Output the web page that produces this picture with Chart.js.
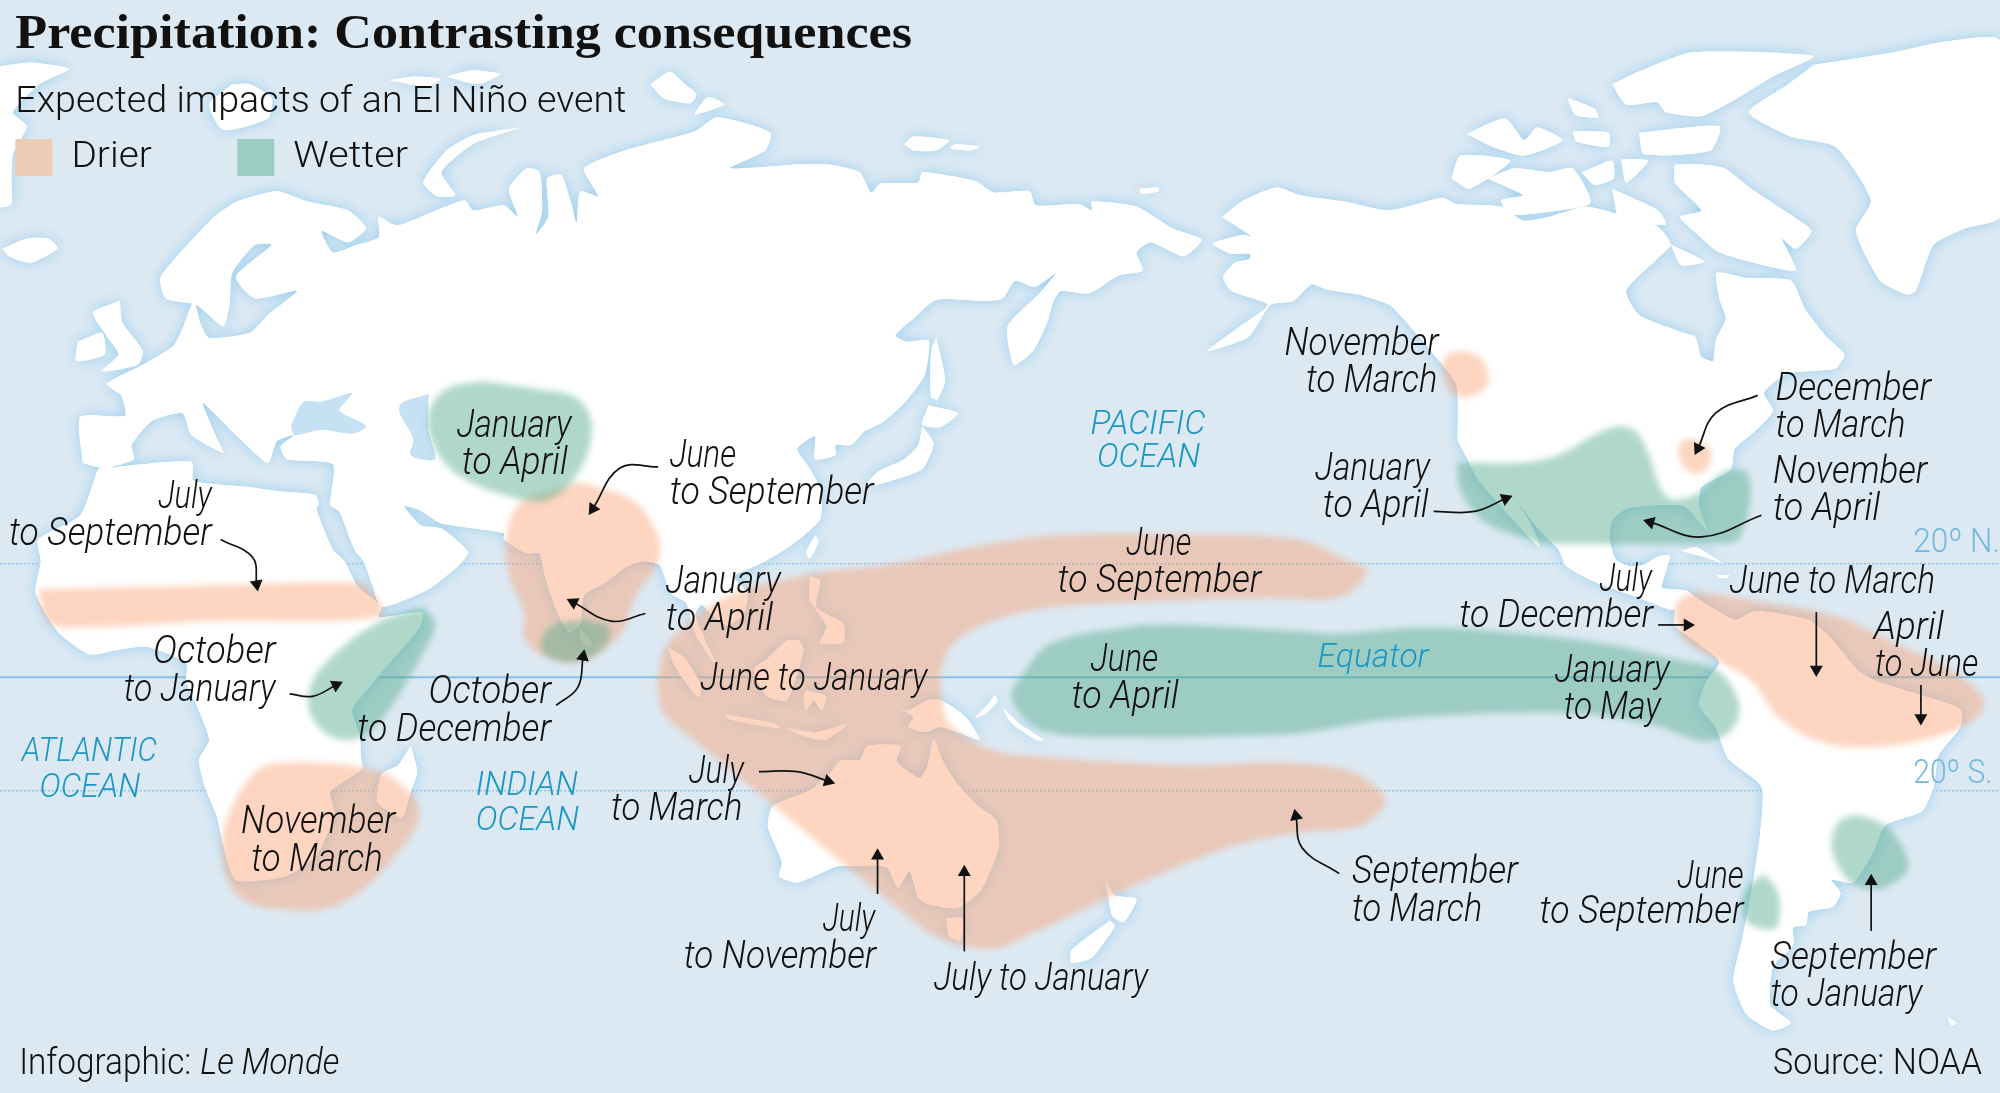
<!DOCTYPE html>
<html>
<head>
<meta charset="utf-8">
<title>Precipitation: Contrasting consequences</title>
<script src="https://cdn.jsdelivr.net/npm/chart.js@4"></script>
<style>
  html, body { margin: 0; padding: 0; background: #dce9f3; }
  canvas { display: block; }
</style>
</head>
<body>
<canvas id="myChart" width="2000" height="1093"></canvas>
<script>
var eurasia = [[65,363],[63,327],[98,326],[95,310],[84,301],[112,286],[136,271],[143,258],[152,236],[157,253],[164,265],[196,261],[210,247],[233,228],[200,234],[185,217],[213,192],[200,192],[182,214],[180,239],[175,256],[154,239],[130,234],[126,217],[168,170],[186,158],[217,150],[241,158],[273,165],[287,179],[273,190],[252,181],[261,198],[280,192],[297,186],[297,170],[308,176],[315,176],[364,157],[371,165],[395,161],[406,170],[399,148],[413,132],[423,135],[425,165],[420,184],[430,170],[429,140],[440,137],[448,160],[452,175],[455,150],[469,154],[458,132],[490,118],[545,103],[562,92],[604,104],[600,118],[572,132],[625,129],[650,129],[674,135],[683,151],[690,144],[720,143],[723,135],[765,142],[779,151],[807,150],[812,161],[846,160],[856,165],[856,158],[891,162],[919,179],[942,188],[928,201],[902,190],[891,198],[896,212],[877,216],[854,230],[832,228],[826,236],[821,253],[810,275],[795,286],[790,256],[814,231],[828,214],[811,225],[796,220],[786,234],[772,236],[734,235],[716,250],[702,263],[711,268],[728,267],[725,294],[709,316],[692,331],[678,338],[667,349],[655,349],[655,357],[639,360],[639,342],[625,352],[634,366],[644,385],[643,407],[629,421],[615,431],[600,440],[585,447],[575,452],[586,465],[583,482],[570,490],[556,480],[550,474],[545,482],[552,500],[562,522],[546,499],[538,473],[526,465],[517,443],[504,440],[490,445],[476,456],[458,467],[455,489],[446,496],[436,478],[427,451],[423,434],[413,434],[395,423],[395,418],[355,412],[345,410],[329,400],[317,397],[330,412],[345,414],[354,420],[367,433],[360,443],[336,462],[299,476],[292,459],[285,440],[278,431],[266,401],[259,396],[261,364],[225,360],[220,350],[231,341],[217,346],[210,363],[185,341],[159,316],[171,346],[175,355],[150,341],[143,324],[119,330],[103,349],[105,360],[82,367]];
var africa = [[82,367],[150,362],[152,377],[196,382],[217,385],[247,388],[250,395],[248,399],[261,431],[270,440],[280,459],[299,476],[297,484],[331,480],[329,492],[308,517],[296,531],[280,550],[276,558],[282,577],[283,594],[284,603],[259,621],[262,638],[248,671],[224,687],[185,690],[175,663],[170,640],[161,618],[156,596],[164,580],[155,555],[146,535],[146,520],[115,507],[95,509],[70,513],[45,495],[28,465],[32,440],[30,423],[63,404],[77,368]];
var madagascar = [[322,585],[327,605],[322,621],[315,641],[296,629],[299,607],[312,600]];
var australia = [[651,606],[659,596],[674,596],[680,585],[706,585],[703,597],[721,610],[727,601],[732,580],[739,596],[750,614],[767,632],[781,643],[783,665],[769,698],[751,712],[727,709],[720,704],[713,683],[704,696],[695,680],[667,679],[657,679],[625,692],[611,687],[613,676],[602,648],[606,632],[636,619]];
var tasmania = [[742,720],[755,720],[753,737],[744,734]];
var nzNorth = [[867,690],[874,702],[891,705],[881,723],[872,718]];
var nzSouth = [[870,722],[874,726],[856,751],[840,755],[840,745]];
var newGuinea = [[685,549],[711,557],[727,549],[738,549],[757,562],[768,580],[753,575],[737,570],[726,574],[712,570],[716,562],[700,554]];
var borneo = [[627,502],[630,510],[617,549],[601,546],[591,525],[601,517],[617,502]];
var sumatra = [[524,508],[536,515],[549,536],[548,547],[536,533],[528,520]];
var java = [[568,560],[606,567],[612,571],[591,568],[572,564]];
var sunda = [[617,571],[640,574],[664,568],[647,580],[630,577]];
var sulawesi = [[632,541],[648,546],[644,557],[638,549],[632,557],[630,546]];
var philippines = [[635,452],[643,455],[640,476],[661,489],[661,504],[643,504],[648,491],[635,470]];
var honshu = [[723,334],[732,348],[723,368],[699,377],[678,382],[688,370],[709,360],[720,349]];
var hokkaido = [[728,318],[751,324],[737,335],[723,333]];
var sakhalin = [[734,265],[741,298],[735,313],[730,311],[730,275]];
var taiwan = [[639,420],[642,424],[635,438],[632,433]];
var sriLanka = [[455,492],[465,506],[460,507],[455,500]];
var novayaZemlya = [[408,100],[371,113],[346,135],[357,153],[343,154],[332,143],[350,118],[371,106]];
var svalbard = [[182,66],[196,66],[213,77],[210,93],[175,102],[164,82]];
var franzJosef = [[305,63],[325,60],[345,62],[335,68]];
var franzJosef2 = [[350,60],[370,55],[392,58],[375,66]];
var severnaya = [[510,66],[525,56],[536,65],[546,74],[541,81],[520,77]];
var severnaya2 = [[545,88],[555,76],[568,82],[545,90]];
var newSiberia = [[709,113],[716,107],[744,110],[734,118],[716,118]];
var newSiberia2 = [[749,113],[768,115],[760,118],[745,116]];
var wrangel = [[893,148],[908,147],[908,150],[895,152]];
var iceland = [[2,195],[21,187],[38,187],[45,195],[24,206],[7,201]];
var britain = [[94,236],[96,253],[112,275],[108,286],[80,291],[93,278],[84,264],[73,245]];
var ireland = [[61,268],[80,261],[82,278],[60,283]];
var greenlandEast = [[0,52],[24,49],[54,54],[31,66],[10,88],[21,99],[10,121],[9,143],[9,160],[0,162]];
var northAmerica = [[958,170],[975,157],[1001,147],[1019,153],[1054,158],[1089,165],[1131,155],[1142,160],[1177,162],[1194,173],[1215,170],[1243,162],[1275,170],[1300,178],[1310,192],[1299,203],[1275,228],[1285,247],[1320,261],[1329,264],[1334,280],[1343,283],[1345,267],[1353,250],[1348,234],[1346,214],[1370,218],[1404,220],[1415,242],[1432,264],[1446,278],[1439,289],[1401,293],[1383,308],[1390,322],[1376,338],[1360,352],[1357,368],[1334,382],[1332,396],[1338,415],[1333,410],[1320,397],[1299,396],[1275,399],[1264,408],[1262,423],[1267,439],[1278,444],[1288,443],[1301,436],[1309,436],[1304,455],[1303,461],[1322,463],[1330,470],[1314,478],[1309,478],[1288,470],[1252,457],[1228,444],[1222,431],[1207,416],[1186,389],[1200,410],[1207,429],[1184,405],[1158,375],[1150,359],[1143,345],[1143,330],[1142,302],[1131,286],[1103,253],[1089,239],[1065,231],[1040,227],[1028,223],[1014,236],[996,239],[979,264],[947,275],[972,256],[994,239],[965,228],[959,217],[968,206],[980,203],[980,199],[965,199],[951,191],[975,184],[982,186]];
var southAmerica = [[1324,465],[1360,486],[1376,479],[1418,486],[1436,501],[1457,526],[1471,534],[1506,545],[1537,556],[1537,570],[1520,592],[1516,617],[1507,636],[1478,647],[1469,667],[1453,692],[1436,690],[1443,700],[1437,711],[1418,715],[1416,725],[1406,727],[1406,741],[1390,758],[1388,788],[1404,802],[1390,808],[1369,795],[1359,769],[1366,736],[1373,700],[1380,653],[1381,617],[1355,595],[1345,570],[1332,553],[1338,534],[1348,519],[1331,504],[1313,490],[1315,472]];
var baffin = [[1313,129],[1334,129],[1352,132],[1373,148],[1394,162],[1420,181],[1408,195],[1397,187],[1408,212],[1387,209],[1348,198],[1331,184],[1317,170],[1334,165],[1313,143]];
var victoria = [[1166,140],[1187,132],[1215,135],[1233,132],[1247,159],[1215,166],[1184,168],[1177,157],[1194,153]];
var banks = [[1138,140],[1145,122],[1184,126],[1152,148]];
var ellesmere = [[1264,66],[1285,56],[1327,41],[1422,44],[1390,60],[1362,77],[1334,91],[1306,88],[1299,80],[1275,82]];
var devon = [[1285,104],[1348,99],[1341,118],[1289,121]];
var arctic1 = [[1150,105],[1180,93],[1195,110],[1205,100],[1225,110],[1195,122],[1170,115]];
var arctic2 = [[1229,77],[1250,85],[1253,92],[1235,90]];
var arctic3 = [[1233,103],[1261,104],[1261,115],[1236,111]];
var arctic4 = [[1240,135],[1264,126],[1265,140],[1250,145]];
var arctic5 = [[1271,125],[1292,126],[1275,143]];
var boothia = [[1264,148],[1300,165],[1306,176],[1270,172]];
var southampton = [[1310,192],[1336,205],[1318,208]];
var greenland = [[1422,51],[1485,41],[1523,33],[1568,32],[1568,170],[1541,179],[1516,192],[1502,228],[1495,231],[1474,220],[1455,181],[1467,157],[1439,115],[1404,107],[1371,88],[1402,66]];
var cuba = [[1318,432],[1330,429],[1351,442],[1346,440],[1330,435]];
var hispaniola = [[1346,451],[1356,451],[1354,453],[1348,453]];
var falkland = [[1527,798],[1534,802],[1530,804]];
var newBritain = [[764,563],[775,552],[780,545],[782,550],[772,560]];
var solomon = [[786,555],[800,568],[818,580],[812,580],[792,566]];
var landShapes = [eurasia, africa, madagascar, australia, tasmania, nzNorth, nzSouth, newGuinea, borneo, sumatra, java, sunda, sulawesi, philippines, honshu, hokkaido, sakhalin, taiwan, sriLanka, novayaZemlya, svalbard, franzJosef, franzJosef2, severnaya, severnaya2, newSiberia, newSiberia2, wrangel, iceland, britain, ireland, greenlandEast, northAmerica, southAmerica, baffin, victoria, banks, ellesmere, devon, arctic1, arctic2, arctic3, arctic4, arctic5, boothia, southampton, greenland, cuba, hispaniola, falkland, newBritain, solomon];

var caspian = [[336,309],[315,316],[313,323],[324,344],[322,357],[341,360],[336,338]];
var blackSea = [[228,334],[238,315],[252,315],[276,308],[271,315],[266,322],[287,334],[276,340],[252,337],[231,341]];
var innerSeas = [caspian, blackSea];

var drySahel = [[30,462],[160,459],[278,457],[290,462],[299,483],[170,487],[48,492],[36,485]];
var drySouthAfrica = [[234,597],[280,601],[308,610],[329,635],[315,665],[266,709],[210,712],[185,701],[175,676],[178,642],[203,603]];
var dryIndia = [[455,378],[497,393],[516,421],[516,440],[497,470],[490,492],[478,506],[455,519],[427,515],[411,500],[411,481],[399,451],[397,423],[406,396],[430,385]];
var dryPacific = [[515,534],[524,504],[566,470],[629,451],[695,443],[762,429],[825,420],[930,419],[1017,423],[1058,440],[1072,448],[1051,468],[989,469],[895,472],[807,479],[755,498],[739,520],[739,551],[744,567],[772,586],[797,592],[930,600],[1000,598],[1054,603],[1079,617],[1086,629],[1068,647],[1019,653],[965,664],[895,692],[807,733],[779,744],[737,736],[706,714],[608,633],[545,581],[520,559]];
var dryCanadaCoast = [[1149,275],[1163,283],[1166,302],[1152,311],[1138,308],[1131,289],[1135,278]];
var dryCarolinas = [[1327,344],[1341,352],[1338,368],[1327,371],[1317,360],[1318,346]];
var dryAmazon = [[1334,464],[1369,470],[1439,483],[1485,504],[1530,526],[1555,548],[1548,564],[1509,580],[1460,586],[1425,581],[1394,562],[1373,534],[1345,517],[1320,501],[1313,479],[1320,468]];
var dryRegions = [drySahel, drySouthAfrica, dryIndia, dryPacific, dryCanadaCoast, dryCarolinas, dryAmazon];

var wetCentralAsia = [[378,299],[420,305],[452,312],[464,333],[455,368],[430,392],[395,388],[357,371],[340,349],[336,324],[350,305]];
var wetEastAfrica = [[332,476],[341,490],[329,517],[301,562],[280,579],[259,577],[243,559],[245,534],[270,506],[301,486]];
var wetSriLanka = [[455,486],[478,492],[472,509],[448,519],[427,513],[425,501],[434,490]];
var wetGulf = [[1142,363],[1212,360],[1264,335],[1282,338],[1292,355],[1306,389],[1327,389],[1352,370],[1369,370],[1372,393],[1364,421],[1355,426],[1208,426],[1199,423],[1165,410],[1145,385]];
var wetEquator = [[895,490],[825,504],[800,531],[793,548],[818,573],[895,578],[965,577],[1019,575],[1089,564],[1229,559],[1299,569],[1334,581],[1355,575],[1364,556],[1355,534],[1341,523],[1313,517],[1264,506],[1194,497],[1117,492],[1047,497],[1019,495],[930,490]];
var wetUruguay = [[1457,639],[1478,647],[1493,667],[1495,683],[1474,697],[1453,693],[1439,675],[1436,658],[1443,643]];
var wetChile = [[1383,685],[1394,700],[1394,725],[1387,729],[1369,722],[1367,700]];
var wetRegions = [wetCentralAsia, wetEastAfrica, wetSriLanka, wetGulf, wetEquator, wetUruguay, wetChile];

var drierSwatch = [[12,109],[41,109],[41,138],[12,138]];
var wetterSwatch = [[186,109],[215,109],[215,138],[186,138]];

var equator = [[0,531],[1568,531]];
var north20 = [[0,442],[1568,442]];
var south20 = [[0,620],[1568,620]];

// arrows run tail to tip
var arrows = [
  [[173,423],[198,437],[202,463]],
  [[227,544],[245,546],[268,535]],
  [[436,553],[453,539],[458,510]],
  [[506,481],[479,487],[445,470]],
  [[516,366],[486,367],[462,403]],
  [[595,605],[625,605],[654,614]],
  [[688,701],[688,666]],
  [[756,746],[756,679]],
  [[1050,685],[1021,665],[1015,635]],
  [[1378,310],[1345,324],[1329,356]],
  [[1124,401],[1156,401],[1185,389]],
  [[1381,404],[1334,421],[1289,408]],
  [[1300,490],[1328,490]],
  [[1424,480],[1424,530]],
  [[1506,537],[1506,568]],
  [[1467,730],[1467,686]]
];

// text, left, baseline, right
var periodLabels = [
  ["July",124,398,166],["to September",7,427,166],
  ["January",358,343,448],["to April",362,372,445],
  ["June",525,366,577],["to September",525,395,685],
  ["October",120,520,216],["to January",97,550,216],
  ["October",336,551,432],["to December",280,581,432],
  ["January",522,465,612],["to April",522,494,606],
  ["June to January",549,541,727],
  ["November",189,653,310],["to March",197,683,300],
  ["July",540,614,583],["to March",479,643,582],
  ["July",645,730,686],["to November",536,759,687],
  ["July to January",732,776,900],
  ["June",883,435,934],["to September",829,464,989],
  ["June",855,526,908],["to April",840,555,924],
  ["September",1060,692,1190],["to March",1060,722,1162],
  ["January",1219,535,1309],["to May",1226,564,1302],
  ["July",1254,463,1295],["to December",1144,492,1296],
  ["June to March",1356,465,1517],
  ["April",1469,501,1524],["to June",1470,530,1551],
  ["November",1007,278,1128],["to March",1024,307,1127],
  ["December",1392,314,1514],["to March",1392,343,1494],
  ["January",1031,376,1121],["to April",1037,405,1120],
  ["November",1390,379,1511],["to April",1390,408,1474],
  ["June",1315,696,1367],["to September",1207,724,1367],
  ["September",1388,760,1518],["to January",1388,789,1507]
];
var oceanLabels = [
  ["PACIFIC",855,340,945],["OCEAN",860,366,941],
  ["ATLANTIC",17,597,123],["OCEAN",31,625,110],
  ["INDIAN",373,623,453],["OCEAN",373,651,454],
  ["Equator",1033,523,1120]
];
var latitudeLabels = [["20º N.",1500,433,1568],["20º S.",1500,614,1562]];
var plainLabels = [
  ["Expected impacts of an El Niño event",12,88,491],
  ["Drier",56,131,119],["Wetter",230,131,320],
  ["Infographic:",15,842,150],["Source: NOAA",1390,842,1554]
];
var italicNote = [["Le Monde",157,842,266]];
var titleLabel = [["Precipitation: Contrasting consequences",12,38,715]];

var OCEAN_BLUE = '#1a97c4';
var DRY = 'rgba(250,155,105,0.42)';
var WET = 'rgba(80,169,138,0.45)';

function toPoints(arr) {
    return arr.map(function(p) { return {x: p[0], y: p[1]}; });
}

function shape(arr, color, extra) {
    var closed = arr.concat([arr[0]]);
    return Object.assign({
        data: toPoints(closed),
        showLine: true,
        fill: 'shape',
        backgroundColor: color,
        borderWidth: 0,
        pointRadius: 0,
        tension: 0
    }, extra || {});
}

function guide(arr, color, width, dash) {
    return {
        data: toPoints(arr),
        showLine: true,
        fill: false,
        borderColor: color,
        borderWidth: width,
        borderDash: dash,
        pointRadius: 0
    };
}

function arrow(arr) {
    // pull the last point back so the triangle's tip lands on it
    var n = arr.length - 1;
    var dx = arr[n][0] - arr[n-1][0], dy = arr[n][1] - arr[n-1][1];
    var len = Math.sqrt(dx * dx + dy * dy);
    var pts = arr.slice(0, n).concat([[arr[n][0] - dx / len * 5, arr[n][1] - dy / len * 5]]);
    return {
        data: toPoints(pts),
        showLine: true,
        fill: false,
        borderColor: '#111',
        borderWidth: 1.7,
        tension: 0.4,
        pointStyle: 'triangle',
        pointBackgroundColor: '#111',
        pointBorderWidth: 0,
        pointRotation: Math.atan2(dx, -dy) * 180 / Math.PI,
        pointRadius: function(c) { return c.dataIndex === n ? 7.5 : 0; }
    };
}

// paint order, back to front
var layers = [];
layers.push(guide(north20, '#7fc3e6', 1.3, [2, 2]));
layers.push(guide(south20, '#7fc3e6', 1.3, [2, 2]));
layers.push(guide(equator, '#86c0e0', 2, []));
landShapes.forEach(function(l) { layers.push(shape(l, '#fff', {glow: 14, tension: 0.2})); });
landShapes.forEach(function(l) { layers.push(shape(l, '#fff', {tension: 0.2})); });
innerSeas.forEach(function(l) { layers.push(shape(l, '#c5e1f3', {tension: 0.3})); });
dryRegions.forEach(function(r) { layers.push(shape(r, DRY, {tension: 0.35, soft: 3})); });
wetRegions.forEach(function(r) { layers.push(shape(r, WET, {tension: 0.35, soft: 3})); });
layers.push(shape(drierSwatch, 'rgb(237,203,182)'));
layers.push(shape(wetterSwatch, 'rgb(157,204,194)'));
arrows.forEach(function(a) { layers.push(arrow(a)); });
layers.forEach(function(d, i) { d.order = layers.length - i; });

function applyFx(ctx, ds) {
    ctx.shadowColor = ds && ds.glow ? '#9bcfee' : 'rgba(0,0,0,0)';
    ctx.shadowBlur = ds && ds.glow ? ds.glow : 0;
    ctx.filter = ds && ds.soft ? 'blur(' + ds.soft + 'px)' : 'none';
}

function drawTexts(chart, rows, font, color) {
    var ctx = chart.ctx, xs = chart.scales.x, ys = chart.scales.y;
    ctx.save();
    ctx.font = font;
    ctx.fillStyle = color;
    ctx.textBaseline = 'alphabetic';
    ctx.textAlign = 'left';
    rows.forEach(function(r) {
        var left = xs.getPixelForValue(r[1]);
        var wanted = xs.getPixelForValue(r[3]) - left;
        var k = wanted / ctx.measureText(r[0]).width;
        ctx.save();
        ctx.translate(left, ys.getPixelForValue(r[2]));
        ctx.scale(k, 1);
        ctx.fillText(r[0], 0, 0);
        ctx.restore();
    });
    ctx.restore();
}

// the filler runs ahead of inline plugins, so each dataset's effect is set before its turn
var mapEffects = {
    id: 'mapEffects',
    beforeDatasetsDraw: function(chart) {
        var metas = chart.getSortedVisibleDatasetMetas();
        chart.ctx.save();
        applyFx(chart.ctx, layers[metas[metas.length - 1].index]);
    },
    afterDatasetDraw: function(chart, args) {
        var metas = chart.getSortedVisibleDatasetMetas();
        var pos = metas.findIndex(function(m) { return m.index === args.index; });
        applyFx(chart.ctx, pos > 0 ? layers[metas[pos - 1].index] : null);
    },
    afterDatasetsDraw: function(chart) {
        chart.ctx.restore();
        drawTexts(chart, titleLabel, 'bold 49px "Liberation Serif"', '#111');
        drawTexts(chart, plainLabels, '300 37px Roboto', '#111');
        drawTexts(chart, italicNote, 'italic 300 37px Roboto', '#111');
        drawTexts(chart, periodLabels, 'italic 300 38px Roboto', '#111');
        drawTexts(chart, oceanLabels, 'italic 300 34px Roboto', OCEAN_BLUE);
        drawTexts(chart, latitudeLabels, '300 34px Roboto', '#74b7dd');
    }
};

var myChart = new Chart(document.getElementById('myChart'), {
    type: 'scatter',
    data: { datasets: layers },
    plugins: [mapEffects],
    options: {
        responsive: false,
        animation: false,
        events: [],
        layout: { padding: 0, autoPadding: false },
        plugins: { legend: { display: false }, tooltip: { enabled: false } },
        scales: {
            x: { type: 'linear', min: 0, max: 1568, display: false },
            y: { type: 'linear', min: 0, max: 857, reverse: true, display: false }
        }
    }
});
</script>
</body>
</html>
